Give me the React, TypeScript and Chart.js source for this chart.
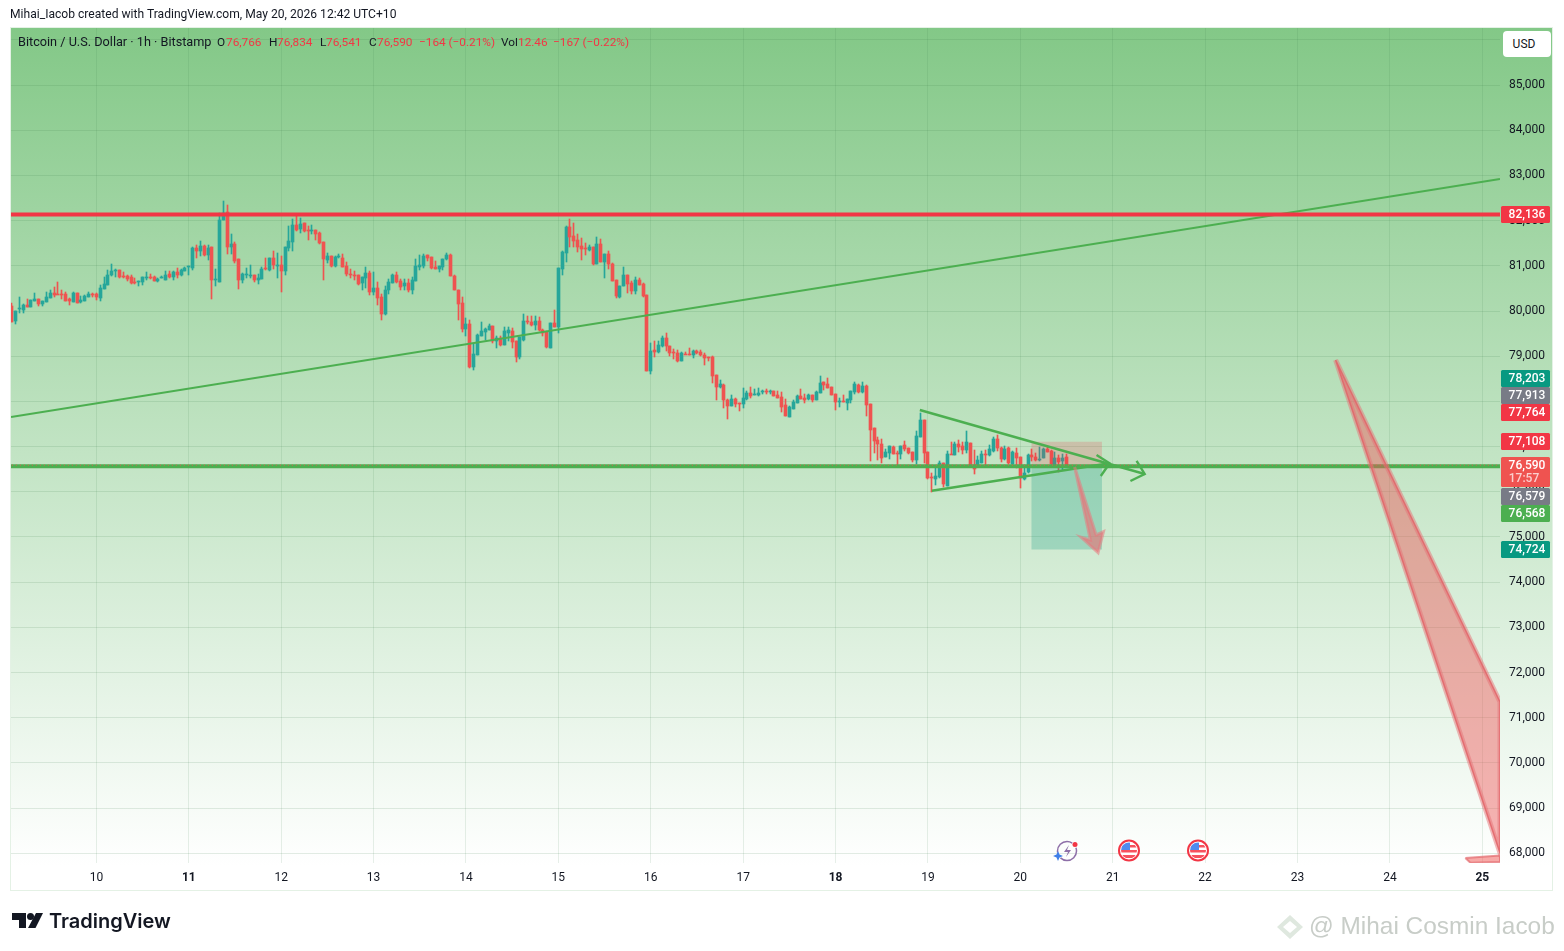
import React, { useEffect, useRef } from "react";
import { Chart, registerables } from "chart.js";

Chart.register(...registerables);

// Hourly candles [open, high, low, close], one array per session.
const session09 = [[80098,80149,79729,79729],[79760,79987,79690,79987],[80039,80282,79928,80053],[80009,80134,79928,80112],[80120,80245,80060,80075],[80075,80223,80075,80223],[80208,80385,80208,80252],[80252,80252,80098,80134],[80134,80201,80098,80201],[80186,80407,80186,80297],[80275,80452,80275,80385],[80385,80518,80297,80341],[80363,80629,80348,80348],[80363,80452,80245,80333],[80363,80407,80208,80208],[80238,80267,80120,80193],[80186,80407,80179,80385],[80385,80385,80164,80164],[80186,80319,80157,80230],[80208,80341,80208,80319],[80297,80393,80282,80363],[80363,80385,80297,80341]];
const session10 = [[80363,80385,80230,80297],[80275,80562,80208,80496],[80474,80739,80474,80585],[80562,80894,80562,80784],[80784,81027,80762,80872],[80872,80917,80739,80894],[80894,80894,80717,80739],[80762,80850,80717,80739],[80762,80784,80651,80695],[80739,80784,80585,80607],[80629,80717,80585,80607],[80622,80651,80540,80636],[80629,80739,80562,80739],[80717,80850,80673,80739],[80739,80806,80695,80717],[80739,80762,80651,80651],[80651,80717,80629,80695],[80710,80762,80702,80725],[80673,80872,80673,80784],[80806,80872,80717,80739],[80739,80872,80673,80850],[80850,80939,80717,80784],[80784,80917,80762,80894],[80872,80954,80865,80939]];
const session11 = [[80946,80983,80784,80968],[80939,81403,80894,81381],[81381,81448,81160,81315],[81315,81536,81204,81426],[81426,81448,81204,81226],[81226,81448,81116,81381],[81403,81403,80252,80673],[80673,80917,80540,80695],[80629,82156,80629,82001],[82001,82422,82001,82156],[82178,82333,81249,81403],[81403,81691,81249,81470],[81470,81514,81049,81094],[81138,81138,80474,80673],[80673,80828,80607,80806],[80784,80939,80717,80806],[80762,81005,80717,80784],[80784,80784,80629,80673],[80673,80806,80585,80717],[80695,80961,80695,80917],[80939,81160,80894,80917],[80894,81160,80872,81160],[81160,81315,80917,81005],[80990,81271,80717,81005]];
const session12 = [[81005,81204,80407,80872],[80872,81403,80784,81403],[81381,81868,81315,81536],[81514,82023,81315,81890],[81890,82112,81758,81780],[81802,82045,81713,81913],[81935,81935,81736,81758],[81780,81868,81558,81765],[81765,81890,81684,81780],[81780,81780,81558,81691],[81713,81736,81470,81492],[81514,81514,80673,81138],[81116,81271,81049,81204],[81205,81205,80961,80983],[80983,81205,80961,81183],[81183,81249,81160,81205],[81160,81249,80961,80961],[80983,81072,80762,80806],[80806,80917,80717,80791],[80784,80872,80673,80770],[80784,80784,80562,80585],[80607,80740,80452,80740],[80718,80961,80496,80828],[80828,80873,80341,80408]];
const session13 = [[80408,80851,80341,80496],[80496,80629,80120,80275],[80297,80364,79788,79921],[79921,80541,79899,80452],[80452,80696,80364,80629],[80607,80806,80607,80784],[80784,80851,80607,80629],[80651,80696,80452,80518],[80541,80696,80452,80607],[80607,80696,80408,80452],[80452,80740,80364,80673],[80651,81138,80651,80983],[80961,81227,80895,81005],[80983,81249,80939,81205],[81227,81227,81094,81160],[81183,81183,80917,80939],[80961,81094,80917,80917],[80917,80983,80850,80983],[80961,81138,80895,81138],[81138,81271,81116,81227],[81227,81249,80762,80762],[80762,80784,80452,80452],[80452,80452,79788,80142],[80164,80297,79522,79589]];
const session14 = [[79589,79832,79434,79700],[79700,79788,78726,78748],[78748,79249,78681,79035],[79013,79470,79013,79456],[79434,79744,79434,79545],[79522,79610,79345,79589],[79567,79700,79567,79655],[79655,79655,79279,79323],[79323,79434,79168,79382],[79390,79434,79213,79235],[79235,79633,79235,79545],[79500,79633,79323,79567],[79545,79611,79168,79301],[79323,79323,78858,78969],[78969,79412,78925,79412],[79345,79921,79323,79766],[79766,79877,79700,79744],[79744,79877,79655,79677],[79677,79877,79567,79766],[79766,79854,79545,79567],[79567,79590,79434,79500],[79522,79545,79168,79190],[79168,79722,79168,79722],[79722,80009,79633,79633]];
const session15 = [[79633,80939,79500,80939],[80917,81315,80784,81293],[81271,81869,81072,81847],[81847,82024,81404,81625],[81647,81935,81404,81537],[81559,81692,81293,81404],[81426,81603,81116,81360],[81375,81492,81227,81360],[81337,81430,81315,81404],[81404,81404,81005,81027],[81027,81625,81027,81470],[81470,81581,81072,81072],[81072,81249,80718,81249],[81249,81315,80917,81027],[81027,81050,80651,80651],[80673,80673,80275,80319],[80297,80541,80275,80541],[80541,80961,80541,80784],[80784,80784,80386,80585],[80607,80651,80364,80430],[80430,80740,80364,80673],[80673,80718,80563,80563],[80585,80606,80297,80319],[80341,80341,78645,78659]];
const session16 = [[78659,79279,78593,79102],[79124,79323,78969,79080],[79080,79323,79060,79235],[79213,79434,79190,79390],[79390,79500,79102,79213],[79213,79213,78991,79058],[79080,79146,78925,79058],[79058,79124,78859,78881],[78881,79080,78881,79058],[79036,79080,79020,79020],[79036,79168,79014,79014],[79014,79110,78947,79102],[79102,79124,79036,79058],[79080,79110,78991,79014],[79014,79058,78792,78947],[78969,78969,78881,78955],[78969,78991,78394,78549],[78571,78571,78017,78305],[78305,78460,78283,78372],[78349,78372,77840,78017],[78017,78040,77597,77885],[77885,78128,77885,78040],[78040,78062,77862,77929],[77944,77944,77774,77929]];
const session17 = [[77929,78283,77840,78062],[78040,78217,78017,78172],[78172,78305,78062,78106],[78140,78261,78128,78150],[78128,78283,78106,78172],[78194,78239,78150,78217],[78217,78261,78150,78202],[78194,78239,78150,78217],[78217,78217,78106,78106],[78128,78217,78062,78062],[78084,78194,77752,77862],[77907,78040,77663,77663],[77641,77885,77641,77862],[77818,78017,77818,77973],[77951,78128,77951,78106],[78106,78261,78040,78040],[78062,78150,77951,78017],[78040,78150,78017,78128],[78128,78128,77973,78017],[78017,78217,78017,78194],[78172,78549,78172,78394],[78416,78416,78239,78349],[78372,78504,78283,78283],[78305,78305,78128,78128]];
const session18 = [[78150,78150,77796,77973],[77973,78062,77863,77995],[77995,78128,77973,77973],[77951,78040,77796,78040],[78017,78217,77951,78217],[78194,78416,78150,78372],[78349,78372,78172,78194],[78194,78416,78172,78327],[78327,78349,77663,77907],[77929,77929,76667,77353],[77398,77398,76844,77110],[77132,77198,76689,77043],[77043,77154,76623,76734],[76756,76933,76756,76866],[76844,77000,76711,77000],[76977,77000,76822,76822],[76844,76888,76534,76830],[76823,77000,76712,77000],[77022,77111,76889,76934],[76956,76956,76823,76845],[76867,76867,76646,76690],[76690,77332,76602,77221],[77199,77730,77199,77575],[77575,77575,76624,76845]];
const session19 = [[76867,76867,76270,76292],[76314,76402,75982,76292],[76270,76557,76137,76336],[76314,76668,76292,76624],[76624,76624,76092,76159],[76115,76889,76115,76823],[76823,77088,76808,76808],[76801,77088,76801,77044],[77044,77133,76867,76978],[77000,77088,76823,76911],[76911,77332,76845,77088],[77066,77066,76560,76579],[76579,76911,76380,76491],[76535,76779,76535,76690],[76624,76889,76624,76823],[76823,76911,76557,76808],[76801,77022,76779,76934],[76889,77199,76867,77155],[77155,77243,76889,76956],[76956,76978,76646,76712],[76712,77000,76690,76934],[76956,76978,76602,76624],[76602,76889,76580,76867],[76845,76956,76513,76734]];
const session20 = [[76757,76757,76070,76292],[76270,76580,76247,76402],[76424,76823,76402,76801],[76801,76934,76668,76757],[76757,76845,76668,76690],[76690,76978,76668,76712],[76734,76956,76734,76934],[76934,76978,76867,76867],[76889,76911,76557,76602],[76557,76867,76535,76734],[76734,76801,76424,76646],[76668,76823,76469,76734],[76744,76812,76519,76568]];
const READING_CORRECTION = 22; // readings above were calibrated 1px high against the price axis

const dayLabels = ["10","11","12","13","14","15","16","17","18","19","20","21","22","23","24","25"];
const dayHours = [22,46,70,94,118,142,166,190,214,238,262,286,310,334,358,382];
const boldDays = ["11","18","25"];
const priceTicks = [68000,69000,70000,71000,72000,73000,74000,75000,76000,77000,78000,79000,80000,81000,82000,83000,84000,85000,86000];

// Drawings as [hour, price]
const resistance = [[-1,82136],[390,82136]];
const support = [[-1,76568],[390,76568]];
const lastPriceLine = [[-1,76590],[390,76590]];
const longTrend = [[-0.18,77655],[386.6,82922]];
const wedgeUpper = [[235.9,77810],[294.3,76394]];
const wedgeUpperHead = [[292.2,76682],[294.3,76394],[290.6,76239]];
const wedgeLower = [[239,76024],[285.2,76631]];
const wedgeLowerHead = [[281.8,76814],[285.2,76631],[282.9,76350]];
const riskBox = [[264.9,77108],[283.2,77108],[283.2,76590],[264.9,76590],[264.9,77108]];
const rewardBox = [[264.9,76590],[283.2,76590],[283.2,74724],[264.9,74724],[264.9,76590]];
const smallArrow = [[276.1,76549],[281.7,75044],[283.6,75117],[282.2,74652],[277.8,74993],[280.2,74933],[276.1,76549]];
const bigArrow = [[343.9,78917],[386.6,71348],[386.6,68007],[343.9,78917]];
const bigArrowFoot = [[377.6,67896],[386.6,67951],[386.6,67807],[378.9,67792],[377.6,67896]];

const axisLabels = [
  { price: 82136, color: "#f23645", nudge: 0 },
  { price: 78203, color: "#089981", nudge: -13.7 },
  { price: 77913, color: "#787b86", nudge: -9.8 },
  { price: 77764, color: "#f23645", nudge: 0.4 },
  { price: 77108, color: "#f23645", nudge: 0 },
  { price: 76579, color: "#787b86", nudge: 31 },
  { price: 76568, color: "#4caf50", nudge: 47.5 },
  { price: 74724, color: "#089981", nudge: 0 },
];
const lastPrice = 76590;
const countdown = "17:57";

const UP = "#26a69a";
const DOWN = "#ef5350";
const GREEN = "#4caf50";
const FONT = "Roboto, sans-serif";

const bars = [session09,session10,session11,session12,session13,session14,session15,session16,session17,session18,session19,session20].flat();
const fmt = (v: number) => v.toLocaleString("en-US");
const pts = (a: number[][]) => a.map(([x, y]) => ({ x, y }));

const lineDs = (data: number[][], color: string, width: number, order: number, extra: any = {}) => ({
  type: "line", data: pts(data), borderColor: color, borderWidth: width, pointRadius: 0, tension: 0, fill: false, order, ...extra,
});
const shapeDs = (data: number[][], stroke: string, fill: string, width: number, order: number) => ({
  type: "line", data: pts(data), borderColor: stroke, backgroundColor: fill, borderWidth: width, pointRadius: 0, tension: 0, fill: "shape", order,
});

const snapCandles = {
  id: "snapCandles",
  afterDatasetsUpdate(chart: any) {
    chart.data.datasets.forEach((d: any, i: number) => {
      if (d.type !== "bar") return;
      chart.getDatasetMeta(i).data.forEach((el: any) => {
        el.x = Math.floor(el.x) + 0.5;
        const a = Math.round(el.y), b = Math.round(el.base);
        el.y = a;
        el.base = a === b ? a + 1 : b;
      });
    });
  },
};

const panel = {
  id: "panel",
  beforeDraw(chart: any) {
    const { ctx } = chart;
    ctx.save();
    ctx.fillStyle = "#fff";
    ctx.fillRect(0, 0, 1564, 951);
    const g = ctx.createLinearGradient(0, 27, 0, 866);
    g.addColorStop(0, "rgb(131,200,135)");
    g.addColorStop(1, "rgb(255,255,255)");
    ctx.fillStyle = g;
    ctx.fillRect(11, 28, 1541, 838);
    ctx.strokeStyle = "rgba(225,240,226,0.9)";
    ctx.lineWidth = 1;
    ctx.strokeRect(10.5, 27.5, 1542, 863);
    ctx.restore();
  },
};

const priceLabels = {
  id: "priceLabels",
  afterDraw(chart: any) {
    const { ctx } = chart;
    const y = chart.scales.y;
    const box = (cy: number, h: number, color: string) => {
      ctx.fillStyle = color;
      ctx.beginPath();
      ctx.roundRect(1501, Math.round(cy - h / 2), 49, h, 1.5);
      ctx.fill();
    };
    ctx.save();
    ctx.textBaseline = "middle";
    ctx.textAlign = "center";
    ctx.font = `500 12px ${FONT}`;
    axisLabels.forEach((l) => {
      const cy = y.getPixelForValue(l.price) + l.nudge;
      box(cy, 17, l.color);
      ctx.fillStyle = "#fff";
      ctx.fillText(fmt(l.price), 1527, cy + 0.5);
    });
    const cy = y.getPixelForValue(lastPrice);
    ctx.fillStyle = DOWN;
    ctx.beginPath();
    ctx.roundRect(1501, Math.round(cy - 8), 49, 30, 1.5);
    ctx.fill();
    ctx.fillStyle = "#fff";
    ctx.fillText(fmt(lastPrice), 1527, cy + 0.5);
    ctx.fillStyle = "rgba(255,255,255,0.72)";
    ctx.fillText(countdown, 1524, cy + 14);
    ctx.restore();
  },
};

const Abs = ({ l, t, c, s = 11.8, w = 400, children }: any) => (
  <span style={{ position: "absolute", left: l, top: t, color: c, fontSize: s, fontWeight: w, whiteSpace: "pre", fontFamily: FONT, lineHeight: "14px" }}>{children}</span>
);

const Flag = ({ cx }: { cx: number }) => (
  <g>
    <circle cx={cx} cy={850.5} r={10} fill="#fff" stroke="#f23645" strokeWidth={2} />
    <clipPath id={`f${cx}`}><circle cx={cx} cy={850.5} r={8} /></clipPath>
    <g clipPath={`url(#f${cx})`}>
      <rect x={cx - 8} y={845} width={16} height={2.5} fill="#f7525f" />
      <rect x={cx - 8} y={850} width={16} height={2.5} fill="#f7525f" />
      <rect x={cx - 8} y={855} width={16} height={3} fill="#f7525f" />
      <rect x={cx - 8} y={842} width={9} height={8} fill="#4f8bf0" />
    </g>
  </g>
);

export default function App() {
  const ref = useRef<HTMLCanvasElement>(null);
  useEffect(() => {
    const chart = new Chart(ref.current as HTMLCanvasElement, {
      type: "line",
      data: {
        datasets: [
          {
            type: "bar", grouped: false, barThickness: 1, borderWidth: 0, order: 21,
            data: bars.map(([, h, l], i) => ({ x: i, y: [l + READING_CORRECTION, h + READING_CORRECTION] })),
            backgroundColor: bars.map(([o, , , c]) => (c >= o ? UP : DOWN)),
          },
          {
            type: "bar", grouped: false, barThickness: 3, borderWidth: 0, order: 20,
            data: bars.map(([o, , , c], i) => ({ x: i, y: [o + READING_CORRECTION, c + READING_CORRECTION] })),
            backgroundColor: bars.map(([o, , , c]) => (c >= o ? UP : DOWN)),
          },
          shapeDs(riskBox, "rgba(0,0,0,0)", "rgba(242,54,69,0.2)", 0, 12),
          shapeDs(rewardBox, "rgba(0,0,0,0)", "rgba(8,153,129,0.25)", 0, 12),
          lineDs(longTrend, GREEN, 2, 9),
          lineDs(resistance, "#f23645", 4, 8),
          lineDs(support, GREEN, 4, 8),
          lineDs(lastPriceLine, "#ef5350", 1, 7, { borderDash: [1, 3] }),
          lineDs(wedgeUpper, GREEN, 2.4, 6),
          lineDs(wedgeUpperHead, GREEN, 2.4, 6),
          lineDs(wedgeLower, GREEN, 2.4, 6),
          lineDs(wedgeLowerHead, GREEN, 2.4, 6),
          shapeDs(smallArrow, "rgba(232,120,125,0.55)", "rgba(232,110,115,0.6)", 3, 5),
          shapeDs(bigArrow, "rgba(229,115,120,0.5)", "rgba(239,83,85,0.44)", 5, 5),
          lineDs(bigArrow, "rgba(226,100,105,0.85)", 1.5, 4),
          shapeDs(bigArrowFoot, "rgba(226,105,110,0.7)", "rgba(239,83,80,0.5)", 2, 5),
        ] as any,
      },
      options: {
        responsive: false,
        animation: false,
        events: [],
        layout: { padding: { left: 11, top: 28, right: 12, bottom: 61 } },
        plugins: { legend: { display: false }, tooltip: { enabled: false } },
        scales: {
          x: {
            type: "linear", min: -0.18, max: 386.6, offset: false,
            grid: { color: "rgba(60,120,70,0.12)", offset: false, drawTicks: false },
            border: { display: false },
            afterFit: (s: any) => { s.height = 27; },
            afterBuildTicks: (s: any) => { s.ticks = dayHours.map((value) => ({ value })); },
            ticks: {
              autoSkip: false, maxRotation: 0, padding: 8, color: "#131722",
              callback: (v: any) => dayLabels[dayHours.indexOf(v)] ?? "",
              font: (c: any) => ({ family: FONT, size: 12, weight: boldDays.includes(dayLabels[dayHours.indexOf(c.tick?.value)]) ? 700 : 400 }),
            },
          },
          y: {
            type: "linear", position: "right", min: 67785, max: 86264,
            grid: { color: "rgba(60,120,70,0.14)", drawTicks: false },
            border: { display: false },
            afterFit: (s: any) => { s.width = 52; },
            afterBuildTicks: (s: any) => { s.ticks = priceTicks.map((value) => ({ value })); },
            ticks: {
              padding: 9, color: "#131722", autoSkip: false,
              font: { family: FONT, size: 12 },
              callback: (v: any) => (v === 86000 ? "" : fmt(v)),
            },
          },
        },
      } as any,
      plugins: [panel, snapCandles, priceLabels],
    });
    return () => chart.destroy();
  }, []);

  return (
    <div style={{ position: "absolute", left: 0, top: 0, width: 1564, height: 951, overflow: "hidden", background: "#fff" }}>
      <canvas ref={ref} width={1564} height={951} style={{ position: "absolute", left: 0, top: 0, width: 1564, height: 951 }} />
      <Abs l={10} t={7} c="#131722" s={12.1}>Mihai_Iacob created with TradingView.com, May 20, 2026 12:42 UTC+10</Abs>
      <Abs l={18} t={35} c="#131722" s={12.7}>Bitcoin / U.S. Dollar · 1h · Bitstamp</Abs>
      <Abs l={217} t={35} c="#131722">O</Abs><Abs l={226} t={35} c="#f23645">76,766</Abs>
      <Abs l={269} t={35} c="#131722">H</Abs><Abs l={277} t={35} c="#f23645">76,834</Abs>
      <Abs l={320} t={35} c="#131722">L</Abs><Abs l={326} t={35} c="#f23645">76,541</Abs>
      <Abs l={369} t={35} c="#131722">C</Abs><Abs l={377} t={35} c="#f23645">76,590</Abs>
      <Abs l={419} t={35} c="#f23645">−164 (−0.21%)</Abs>
      <Abs l={501} t={35} c="#131722">Vol</Abs><Abs l={518} t={35} c="#f23645">12.46</Abs>
      <Abs l={553} t={35} c="#f23645">−167 (−0.22%)</Abs>
      <div style={{ position: "absolute", left: 1503, top: 31, width: 42, paddingRight: 6, height: 26, background: "#fff", borderRadius: 4, textAlign: "center", lineHeight: "27px", fontSize: 12, fontFamily: FONT, color: "#131722" }}>USD</div>
      <svg width={1564} height={951} style={{ position: "absolute", left: 0, top: 0, pointerEvents: "none" }}>
        <Flag cx={1129} />
        <Flag cx={1198} />
        <circle cx={1067} cy={851} r={9.5} fill="none" stroke="#8e6fa8" strokeWidth={1.5} strokeDasharray="22 6" />
        <path d="M1069 845l-5 7h4l-2 5 5-7h-4z" fill="#8e6fa8" />
        <path d="M1058 851l1.5 3.5 3.5 1.5-3.5 1.5-1.5 3.5-1.5-3.5-3.5-1.5 3.5-1.5z" fill="#3f7fe8" />
        <circle cx={1075} cy={844.5} r={2.5} fill="#f23645" />
        <path d="M12 913h14v15h-7v-8h-7z" fill="#131722" />
        <circle cx={30.5} cy={916.5} r={3.5} fill="#131722" />
        <path d="M36 913h7l-7.5 15h-7.5z" fill="#131722" />
        <path d="M1290 915l13 12-13 12-13-12z M1290 921l7 6-7 6-7-6z" fill="#dfe8df" fillRule="evenodd" />
      </svg>
      <Abs l={49} t={914} c="#131722" s={20} w={600}><span style={{ fontFamily: "Inter, sans-serif" }}>TradingView</span></Abs>
      <span style={{ position: "absolute", left: 1309, top: 912, fontFamily: "'Liberation Sans', sans-serif", fontSize: 24.4, color: "#c8cdc8", whiteSpace: "pre", lineHeight: "28px" }}>@ Mihai Cosmin Iacob</span>
    </div>
  );
}
